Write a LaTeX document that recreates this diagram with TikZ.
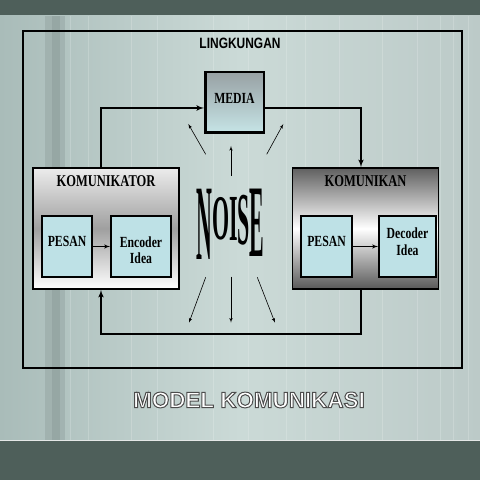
\documentclass[tikz,border=0pt]{standalone}
\usepackage{fontspec}
\setmainfont{Liberation Serif}
\newfontfamily\narrowserif[FakeStretch=0.76]{Liberation Serif}
\newfontfamily\narrowsans[FakeStretch=0.8]{Liberation Sans}
\newfontfamily\widesans{Liberation Sans}
\usetikzlibrary{shapes,arrows}
\definecolor{bandgreen}{HTML}{4E5F5A}
\definecolor{bgleft}{HTML}{A9BCB9}
\definecolor{bgmid}{HTML}{CBDAD7}
\definecolor{bgright}{HTML}{BCCAC8}
\definecolor{boxcyan}{HTML}{BEE1E6}
\definecolor{mediagrey}{HTML}{98A1A4}
\definecolor{mediacyan}{HTML}{C6E4E6}
\newcommand{\outlinetext}[1]{\special{pdf:literal direct 2 Tr 1 w 0.3 0.3 0.3 RG}#1\special{pdf:literal direct 0 Tr}}
\newcommand{\twolines}[3]{\smash{\raisebox{#1}{\parbox[c]{44bp}{\centering #2\\#3}}}}
\tikzstyle{bigbox} = [rectangle, draw, line width=1.8bp, minimum width=146bp, minimum height=121bp]
\tikzstyle{innerbox} = [rectangle, draw, line width=2.4bp, fill=boxcyan, minimum height=60.5bp,
    font=\narrowserif\bfseries\fontsize{15.5}{16.5}\selectfont]
\tikzstyle{boxtitle} = [font=\narrowserif\bfseries\fontsize{16.5}{18}\selectfont]
\tikzstyle{line} = [draw, line width=1.6bp, -latex']
\tikzstyle{noisearrow} = [draw, line width=0.6bp, -latex']

\begin{document}
\begin{tikzpicture}[x=1bp, y=1bp, auto]
    % background
    \useasboundingbox (0,0) rectangle (480,480);
    \fill[bandgreen] (0,0) rectangle (480,480);
    \shade[left color=bgleft, right color=bgright, middle color=bgmid] (0,40) rectangle (480,464);
    \fill[bgleft!80!black, opacity=0.35] (45,40) rectangle (65,464);
    \fill[bgleft!70!black, opacity=0.25] (52,40) rectangle (60,464);
    \foreach \sx in {70,88,131,157,213,248,286,305,339,382,417,440,453,468}
        \draw[white, opacity=0.18, line width=0.8bp] (\sx,40) -- (\sx,464);
    \draw[white!85!bandgreen, line width=0.8bp] (0,40) -- (480,40);
    \draw[line width=2.6bp] (23,112) rectangle (462,449);

    % Place nodes
    \node[font=\narrowsans\bfseries\fontsize{15}{17}\selectfont] (lingkungan) at (240,437) {LINGKUNGAN};
    \node[rectangle, draw, line width=2.5bp, minimum width=58.5bp, minimum height=60.5bp,
        shading angle=135, top color=mediagrey, bottom color=mediacyan, text depth=9bp,
        font=\narrowserif\bfseries\fontsize{15.5}{17.5}\selectfont] (media) at (234.5,377.5) {MEDIA};
    \node[bigbox, top color=gray!15, bottom color=white, middle color=gray!75] (komunikator) at (106,251.5) {};
    \node[bigbox, right of=komunikator, node distance=259.5bp,
        top color=gray!75!black, bottom color=gray!70!black, middle color=white] (komunikan) {};
    \node[boxtitle, above of=komunikator, node distance=47.5bp] (komunikatortitle) {KOMUNIKATOR};
    \node[boxtitle, above of=komunikan, node distance=47.5bp] (komunikantitle) {KOMUNIKAN};
    \node[innerbox, minimum width=49.5bp, text depth=10bp] (pesana) at (67,233.5) {PESAN};
    \node[innerbox, minimum width=59.5bp, right of=pesana, node distance=74bp] (encoder) {\twolines{-7.4bp}{Encoder}{Idea}};
    \node[innerbox, minimum width=50.5bp, text depth=10bp] (pesanb) at (326.5,233.5) {PESAN};
    \node[innerbox, minimum width=56.5bp, right of=pesanb, node distance=81bp] (decoder) {\twolines{1.1bp}{Decoder}{Idea}};
    \node[font=\bfseries\fontsize{22}{22}\selectfont, inner sep=0pt] (noise) at (230.5,256)
        {\raisebox{-20bp}{\scalebox{1}[4.9]{N}}\raisebox{0bp}{\scalebox{1}[2.9]{O}}\raisebox{-1.7bp}{\scalebox{1}[3.0]{I}}\raisebox{-5bp}{\scalebox{1}[3.4]{S}}\raisebox{-17bp}{\scalebox{1}[4.7]{E}}};
    \node[font=\widesans\bfseries\fontsize{22.5}{24}\selectfont, text=white] (judul) at (249,80)
        {\outlinetext{MODEL KOMUNIKASI}};

    % noise arrows
    \foreach \i/\sx/\sy/\ex/\ey in {ul/205.7/325.7/188.3/356, up/231/304/231/334, ur/266.7/325.7/283.3/356,
                                   dl/205.7/202.7/189/157.3, dn/231/203.3/231/157.3, dr/257.3/202.7/275/157.3} {
        \coordinate (ns\i) at (\sx,\sy);
        \coordinate (ne\i) at (\ex,\ey);
        \path[noisearrow] (ns\i) -- (ne\i);
    }

    % Draw edges
    \path [line] ([xshift=-5bp]komunikator.north) |- ([yshift=-5.5bp]media.west);
    \path [line] ([yshift=-5.5bp]media.east) -| ([xshift=-4.5bp]komunikan.north);
    \path [line] ([xshift=-4.5bp]komunikan.south) -- ++(0,-44) -| ([xshift=-5bp]komunikator.south);
    \path [line, line width=1bp] (pesana) -- (encoder);
    \path [line, line width=1bp] (pesanb) -- (decoder);

\end{tikzpicture}
\end{document}
